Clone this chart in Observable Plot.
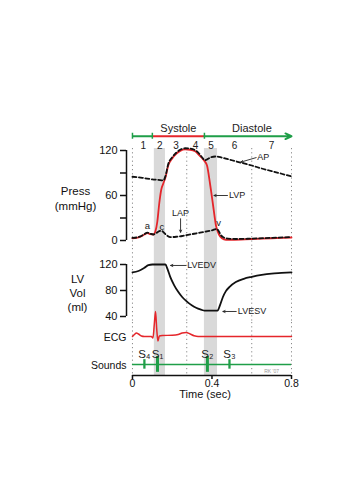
<!DOCTYPE html>
<html><head><meta charset="utf-8">
<script src="https://cdn.jsdelivr.net/npm/d3@7"></script>
<script src="https://cdn.jsdelivr.net/npm/@observablehq/plot@0.6"></script>
<style>
html,body{margin:0;padding:0;background:#fff;}
#chart{position:relative;width:354px;height:500px;}
#chart svg{position:absolute;left:0;}
</style></head><body><div id="chart"></div>
<script>
// ---------- data ----------
const phaseBounds = [0, 0.11, 0.166, 0.273, 0.362, 0.428, 0.6, 0.8];
const phaseLabels = ["1", "2", "3", "4", "5", "6", "7"];
const bandPhases = [2, 5];
const cycleLabels = ["Systole", "Diastole"];
const cycleStart = [0.10, 0.362];
const cycleEnd = [0.362, 0.8];

const lvpTime = [0, 0.02, 0.04, 0.06, 0.075, 0.09, 0.105, 0.115, 0.125, 0.135, 0.145, 0.155, 0.166, 0.18, 0.2, 0.22, 0.24, 0.265, 0.29, 0.315, 0.335, 0.35, 0.362, 0.375, 0.39, 0.405, 0.42, 0.435, 0.45, 0.47, 0.5, 0.6, 0.7, 0.8];
const lvp = [3, 3.5, 5, 8, 10, 8.5, 8, 12, 25, 50, 68, 76, 84, 100, 109.5, 115.5, 119.5, 121.5, 121, 119, 114, 110, 106, 100, 76, 48, 20, 8, 3, 1, 1, 2, 3, 4];

const apTime = [0, 0.05, 0.1, 0.14, 0.155, 0.166, 0.18, 0.2, 0.22, 0.24, 0.265, 0.29, 0.315, 0.335, 0.35, 0.365, 0.378, 0.395, 0.42, 0.45, 0.5, 0.55, 0.6, 0.65, 0.7, 0.75, 0.8];
const ap = [85, 83.5, 81.5, 80.5, 80, 86, 102, 111, 117, 121, 123, 122.5, 120.5, 116, 111, 107, 108.5, 111, 112, 110.5, 107, 103.5, 100, 96, 92.5, 89, 85.5];

const lapTime = [0, 0.02, 0.04, 0.06, 0.075, 0.09, 0.105, 0.12, 0.135, 0.145, 0.16, 0.175, 0.19, 0.22, 0.25, 0.28, 0.31, 0.34, 0.37, 0.40, 0.425, 0.435, 0.445, 0.46, 0.48, 0.52, 0.6, 0.7, 0.8];
const lap = [3.5, 4, 5.5, 8.5, 10.5, 9, 8, 10, 12.5, 13, 10, 6.5, 4.5, 5, 6, 7.5, 9, 10.5, 12, 13.5, 15.5, 12, 7, 4, 2.5, 2, 2.5, 3.5, 4.5];

const volTime = [0, 0.03, 0.06, 0.08, 0.1, 0.166, 0.175, 0.19, 0.21, 0.23, 0.25, 0.27, 0.29, 0.31, 0.33, 0.35, 0.362, 0.428, 0.44, 0.455, 0.47, 0.49, 0.52, 0.56, 0.6, 0.65, 0.7, 0.75, 0.8];
const vol = [108, 110, 115, 119, 120, 120, 114, 101, 88, 78, 70, 64, 59, 55, 52, 50, 49, 49, 57, 70, 79, 86, 93, 98, 101, 104, 106, 107, 108];

const ecgTime = [0, 0.01, 0.02, 0.03, 0.045, 0.06, 0.095, 0.103, 0.11, 0.116, 0.122, 0.128, 0.135, 0.15, 0.2, 0.23, 0.25, 0.27, 0.29, 0.31, 0.33, 0.4, 0.8];
const ecg = [0, 0.08, 0.14, 0.1, 0.02, 0, 0, -0.06, 0.5, 1.0, 0.3, -0.18, 0.02, 0.04, 0.05, 0.08, 0.14, 0.16, 0.1, 0.03, 0, 0, 0];

const soundNames = ["S\u2084", "S\u2081", "S\u2082", "S\u2083"];
const soundTime = [0.06, 0.126, 0.377, 0.488];
const soundIntensity = [0.6, 1, 1, 0.6];

const pressTicks = [0, 30, 60, 90, 120];
const volTicks = [40, 80, 120];
const timeTicks = [0, 0.4, 0.8];

// ---------- helpers ----------
const RED = "#e5262b", GREEN = "#1f9e48";
const font = "'Liberation Sans', Arial, Helvetica, sans-serif";
const pts = (ts, vs) => ts.map((t, i) => ({t, v: vs[i]}));
const dottedTimes = phaseBounds.filter((b, i) => !bandPhases.includes(i) && !bandPhases.includes(i + 1));
const base = {
  width: 354, marginLeft: 126, marginRight: 63,
  x: {domain: [-0.03, 0.8], axis: null},
  style: {fontFamily: font, fontSize: "11px", background: "transparent", overflow: "visible", color: "#111"}
};
const guides = () => [
  Plot.rect(bandPhases, {x1: i => phaseBounds[i - 1], x2: i => phaseBounds[i], fill: "#d9d9d9"}),
  Plot.ruleX(dottedTimes, {stroke: "#8a8a8a", strokeDasharray: "1.2,3", strokeWidth: 1})
];
const dash = {stroke: "#111", strokeWidth: 1.8, strokeDasharray: "4,2.5", curve: "monotone-x"};
const ann = {fontSize: 9, fill: "#222"};
const arr = {stroke: "#222", strokeWidth: 0.9, headLength: 4, headAngle: 50};

// ---------- pressure panel (with header) ----------
const press = Plot.plot({
  ...base, height: 130, marginTop: 30, marginBottom: 0,
  y: {domain: [0, 120], range: [122, 32], axis: null},
  marks: [
    ...guides(),
    // header bar
    Plot.link([0], {x1: 0, x2: cycleStart[0], y1: 139, y2: 139, stroke: GREEN, strokeWidth: 2}),
    Plot.link([0], {x1: cycleStart[0], x2: cycleEnd[0], y1: 139, y2: 139, stroke: RED, strokeWidth: 2}),
    Plot.arrow([0], {x1: cycleStart[1], x2: cycleEnd[1], y1: 139, y2: 139, stroke: GREEN, strokeWidth: 2, headLength: 5, headAngle: 50}),
    Plot.ruleX([0, cycleStart[0], cycleStart[1]], {y1: 135, y2: 143, stroke: GREEN, strokeWidth: 1.5}),
    Plot.text(cycleLabels, {x: (d, i) => (cycleStart[i] + cycleEnd[i]) / 2 + (i ? 0.02 : 0), y: 149.5, fontSize: 11, fill: "#222"}),
    Plot.text(phaseLabels, {x: (d, i) => (phaseBounds[i] + phaseBounds[i + 1]) / 2, y: 126.5, fontSize: 10, fill: "#222"}),
    // axis
    Plot.ruleX([-0.03], {y1: 0, y2: 120, strokeWidth: 1.5}),
    Plot.axisY({ticks: pressTicks, tickFormat: d => d % 60 === 0 ? String(d) : "", tickSize: 6, tickPadding: 3, strokeWidth: 1.5, label: null, fontSize: 11}),
    Plot.text(["Press\n(mmHg)"], {frameAnchor: "left", y: 57, dx: -51, textAnchor: "middle", lineHeight: 1.35, fontSize: 11.5}),
    // curves
    Plot.line(pts(lvpTime, lvp), {x: "t", y: "v", stroke: RED, strokeWidth: 1.8, curve: "monotone-x"}),
    Plot.line(pts(lapTime, lap), {x: "t", y: "v", ...dash}),
    Plot.line(pts(apTime, ap), {x: "t", y: "v", ...dash}),
    // annotations
    Plot.text(["AP"], {x: 0.628, y: 111, textAnchor: "start", ...ann}),
    Plot.arrow([0], {x1: 0.622, y1: 110.5, x2: 0.545, y2: 104.5, ...arr}),
    Plot.text(["LVP"], {x: 0.485, y: 60, textAnchor: "start", ...ann}),
    Plot.arrow([0], {x1: 0.478, y1: 60, x2: 0.41, y2: 60, ...arr}),
    Plot.text(["LAP"], {x: 0.242, y: 36, ...ann}),
    Plot.arrow([0], {x1: 0.242, y1: 29, x2: 0.242, y2: 11, ...arr}),
    Plot.text(["a", "c", "v"], {x: [0.075, 0.148, 0.433], y: [20, 18, 24], ...ann, fontSize: 9.5})
  ]
});

// ---------- volume panel ----------
const volume = Plot.plot({
  ...base, height: 74, marginTop: 0, marginBottom: 0,
  y: {domain: [40, 120], range: [68, 16], axis: null},
  marks: [
    ...guides(),
    Plot.ruleX([-0.03], {y1: 40, y2: 120, strokeWidth: 1.5}),
    Plot.axisY({ticks: volTicks, tickFormat: d => String(d), tickSize: 6, tickPadding: 3, strokeWidth: 1.5, label: null, fontSize: 11}),
    Plot.text(["LV\nVol\n(ml)"], {frameAnchor: "left", y: 77.4, dx: -49, textAnchor: "middle", lineHeight: 1.23, fontSize: 11.5}),
    Plot.line(pts(volTime, vol), {x: "t", y: "v", stroke: "#111", strokeWidth: 1.8, curve: "monotone-x"}),
    Plot.text(["LVEDV"], {x: 0.275, y: 118.5, textAnchor: "start", ...ann}),
    Plot.arrow([0], {x1: 0.268, y1: 118.5, x2: 0.192, y2: 118.5, ...arr}),
    Plot.text(["LVESV"], {x: 0.53, y: 47.7, textAnchor: "start", ...ann}),
    Plot.arrow([0], {x1: 0.522, y1: 47.7, x2: 0.455, y2: 47.7, ...arr})
  ]
});

// ---------- ECG panel ----------
const ecgPlot = Plot.plot({
  ...base, height: 25, marginTop: 0, marginBottom: 0,
  y: {domain: [0, 1], range: [14, -11], axis: null},
  marks: [
    ...guides(),
    Plot.text(["ECG"], {frameAnchor: "left", y: 0, dy: 1, textAnchor: "end", fontSize: 10.5}),
    Plot.line(pts(ecgTime, ecg), {x: "t", y: "v", stroke: RED, strokeWidth: 1.5, curve: "monotone-x"})
  ]
});

// ---------- sounds panel + time axis ----------
const sounds = Plot.plot({
  ...base, height: 60, marginTop: 0, marginBottom: 32,
  y: {domain: [-1.4, 1], range: [28, 9], axis: null},
  marks: [
    ...guides(),
    Plot.text(["Sounds"], {frameAnchor: "left", y: 0, dy: 1, textAnchor: "end", fontSize: 10.5}),
    Plot.ruleY([0], {x1: 0, x2: 0.8, stroke: GREEN, strokeWidth: 1.5}),
    Plot.ruleX(soundTime, {y1: (d, i) => -soundIntensity[i], y2: (d, i) => soundIntensity[i], stroke: GREEN, strokeWidth: (d, i) => 1.2 + 1.8 * soundIntensity[i]}),
    Plot.text(soundNames, {x: soundTime, y: 1, dy: 1, lineAnchor: "bottom", fontSize: 11.5, fill: "#222"}),
    Plot.text(["RK '07"], {x: 0.70, y: -0.85, fontSize: 5, fill: "#999"}),
    Plot.ruleY([-1.4], {x1: 0, x2: 0.8, strokeWidth: 1.5}),
    Plot.axisX({ticks: timeTicks, tickFormat: d => String(d), tickSize: 4, tickPadding: 0, strokeWidth: 1.5, label: null, fontSize: 10.5}),
    Plot.text(["Time (sec)"], {x: 0.365, frameAnchor: "bottom", dy: 15, lineAnchor: "top", fontSize: 11})
  ]
});

const chart = document.getElementById("chart");
[[press, 118], [volume, 248], [ecgPlot, 322], [sounds, 347]].forEach(([svg, top]) => {
  svg.style.top = top + "px";
  chart.appendChild(svg);
});
</script></body></html>
